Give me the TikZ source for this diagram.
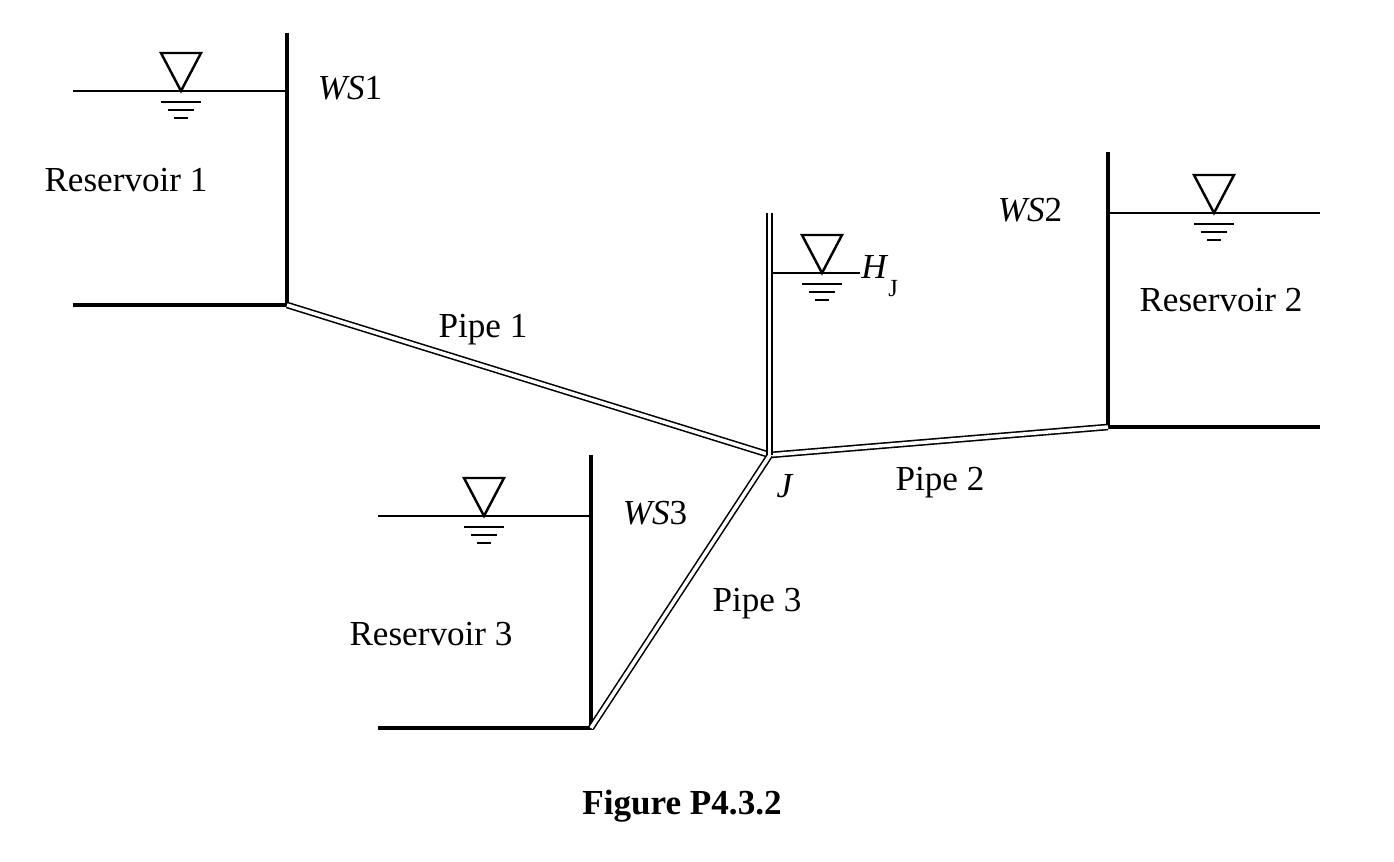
\documentclass[tikz,border=0pt]{standalone}
\usepackage{fontspec}
\setmainfont{Liberation Serif}
\begin{document}
\begin{tikzpicture}[x=0.02cm,y=-0.02cm,
  wall/.style={line width=2.5pt},
  ws/.style={line width=1.4pt},
  pipe/.style={double=white,double distance=2pt,line width=0.9pt,draw=black},
  lbl/.style={font=\fontsize{20}{24}\selectfont,inner sep=0pt}]
\useasboundingbox (0,0) rectangle (1394,862);
\newcommand\wsym[2]{%
  \draw[ws] (#1-20,#2-38) -- (#1+20,#2-38) -- (#1,#2) -- cycle;
  \draw[ws] (#1-20,#2+11) -- (#1+20,#2+11) (#1-13,#2+19) -- (#1+13,#2+19) (#1-7,#2+27) -- (#1+7,#2+27);}
% nodes
\coordinate (r1) at (287,305);
\coordinate (r2) at (1108,427);
\coordinate (r3) at (591,728);
\coordinate (J) at (770,455);
% reservoir 1
\draw[wall] (287,33) -- (r1) -- (73,305);
\draw[ws] (73,91) -- (287,91);
\wsym{181}{91}
% reservoir 2
\draw[wall] (1108,152) -- (r2) -- (1320,427);
\draw[ws] (1108,213) -- (1320,213);
\wsym{1214}{213}
% reservoir 3
\draw[wall] (591,455) -- (r3) -- (378,728);
\draw[ws] (378,516) -- (591,516);
\wsym{484}{516}
% pipes
\draw[pipe] (r1) -- (J);
\draw[pipe] (J) -- (r2);
\draw[pipe] (J) -- (r3);
\draw[pipe,line width=1.2pt] (769.5,213) -- (769.5,455);
\draw[ws] (773,273) -- (860,273);
\wsym{822}{273}
% labels
\node[lbl] (t1) at (126,180) {Reservoir 1};
\node[lbl] (t2) at (1221,300) {Reservoir 2};
\node[lbl] (t3) at (431,634) {Reservoir 3};
\node[lbl] (w1) at (350,88) {\textit{WS}1};
\node[lbl] (w2) at (1030,210) {\textit{WS}2};
\node[lbl] (w3) at (655,513) {\textit{WS}3};
\node[lbl,anchor=west] (hj) at (861,276) {\textit{H}\raisebox{-1.1ex}{\fontsize{14}{16}\selectfont J}};
\node[lbl] (p1) at (483,330) {Pipe 1};
\node[lbl] (p2) at (940,483) {Pipe 2};
\node[lbl] (p3) at (757,604) {Pipe 3};
\node[lbl] (jl) at (785,486) {\textit{J}};
\node[lbl,font=\fontsize{20}{24}\selectfont\bfseries] (fig) at (682,806) {Figure P4.3.2};
\end{tikzpicture}
\end{document}
